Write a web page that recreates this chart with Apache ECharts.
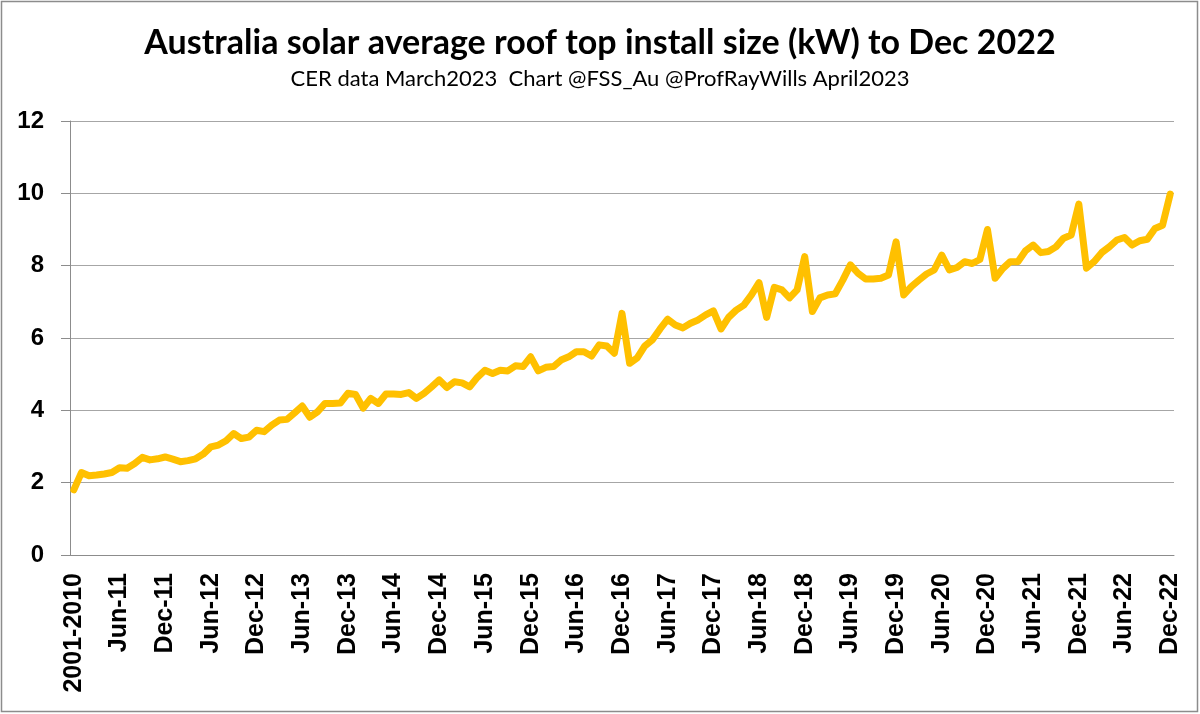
<!DOCTYPE html>
<html>
<head>
<meta charset="utf-8">
<title>Australia solar average roof top install size</title>
<script src="https://cdn.jsdelivr.net/npm/echarts@6/dist/echarts.min.js"></script>
<style>
  html, body { margin: 0; padding: 0; background: #fff; }
  #chart { width: 1200px; height: 714px; }
</style>
</head>
<body>
<div id="chart"></div>
<script>
// categories: first point is the 2001-2010 average, then monthly Jan-11 .. Dec-22
const categories = [
  '2001-2010',
  'Jan-11','Feb-11','Mar-11','Apr-11','May-11','Jun-11','Jul-11','Aug-11','Sep-11','Oct-11','Nov-11','Dec-11',
  'Jan-12','Feb-12','Mar-12','Apr-12','May-12','Jun-12','Jul-12','Aug-12','Sep-12','Oct-12','Nov-12','Dec-12',
  'Jan-13','Feb-13','Mar-13','Apr-13','May-13','Jun-13','Jul-13','Aug-13','Sep-13','Oct-13','Nov-13','Dec-13',
  'Jan-14','Feb-14','Mar-14','Apr-14','May-14','Jun-14','Jul-14','Aug-14','Sep-14','Oct-14','Nov-14','Dec-14',
  'Jan-15','Feb-15','Mar-15','Apr-15','May-15','Jun-15','Jul-15','Aug-15','Sep-15','Oct-15','Nov-15','Dec-15',
  'Jan-16','Feb-16','Mar-16','Apr-16','May-16','Jun-16','Jul-16','Aug-16','Sep-16','Oct-16','Nov-16','Dec-16',
  'Jan-17','Feb-17','Mar-17','Apr-17','May-17','Jun-17','Jul-17','Aug-17','Sep-17','Oct-17','Nov-17','Dec-17',
  'Jan-18','Feb-18','Mar-18','Apr-18','May-18','Jun-18','Jul-18','Aug-18','Sep-18','Oct-18','Nov-18','Dec-18',
  'Jan-19','Feb-19','Mar-19','Apr-19','May-19','Jun-19','Jul-19','Aug-19','Sep-19','Oct-19','Nov-19','Dec-19',
  'Jan-20','Feb-20','Mar-20','Apr-20','May-20','Jun-20','Jul-20','Aug-20','Sep-20','Oct-20','Nov-20','Dec-20',
  'Jan-21','Feb-21','Mar-21','Apr-21','May-21','Jun-21','Jul-21','Aug-21','Sep-21','Oct-21','Nov-21','Dec-21',
  'Jan-22','Feb-22','Mar-22','Apr-22','May-22','Jun-22','Jul-22','Aug-22','Sep-22','Oct-22','Nov-22','Dec-22'
];

// average install size (kW)
const avgSize = [
  1.80,
  2.28, 2.19, 2.21, 2.24, 2.28, 2.41, 2.40, 2.53, 2.70, 2.63, 2.66, 2.71,
  2.65, 2.58, 2.61, 2.66, 2.79, 2.99, 3.04, 3.16, 3.36, 3.22, 3.26, 3.45,
  3.41, 3.59, 3.73, 3.75, 3.93, 4.12, 3.81, 3.96, 4.19, 4.19, 4.20, 4.47,
  4.44, 4.06, 4.33, 4.19, 4.45, 4.45, 4.44, 4.49, 4.33, 4.47, 4.65, 4.84,
  4.63, 4.79, 4.76, 4.65, 4.91, 5.11, 5.02, 5.11, 5.09, 5.23, 5.21, 5.48,
  5.09, 5.19, 5.21, 5.39, 5.48, 5.62, 5.62, 5.50, 5.81, 5.78, 5.58, 6.68,
  5.30, 5.45, 5.78, 5.95, 6.25, 6.52, 6.36, 6.28, 6.41, 6.50, 6.64, 6.75,
  6.25, 6.57, 6.77, 6.91, 7.19, 7.53, 6.57, 7.40, 7.33, 7.11, 7.33, 8.25,
  6.73, 7.11, 7.19, 7.22, 7.60, 8.02, 7.79, 7.63, 7.63, 7.65, 7.74, 8.66,
  7.19, 7.42, 7.60, 7.77, 7.88, 8.29, 7.88, 7.95, 8.11, 8.06, 8.17, 9.00,
  7.65, 7.92, 8.11, 8.11, 8.41, 8.57, 8.36, 8.39, 8.52, 8.76, 8.85, 9.70,
  7.93, 8.11, 8.36, 8.52, 8.71, 8.78, 8.57, 8.69, 8.73, 9.03, 9.12, 9.98
];

const yMin = 0;
const yMax = 12;
const yStep = 2;

const chart = echarts.init(document.getElementById('chart'));

const option = {
  backgroundColor: '#fff',
  animation: false,
  title: {
    text: 'Australia solar average roof top install size (kW) to Dec 2022',
    subtext: 'CER data March2023  Chart @FSS_Au @ProfRayWills April2023',
    left: 'center',
    top: 21,
    itemGap: 8,
    textStyle: {
      fontFamily: 'Lato',
      fontWeight: 'bold',
      fontSize: 34,
      color: '#000'
    },
    subtextStyle: {
      fontFamily: 'Lato',
      fontSize: 22,
      color: '#000'
    }
  },
  graphic: [{
    type: 'rect',
    shape: { x: 1.5, y: 1.5, width: 1196, height: 710 },
    style: { fill: 'none', stroke: '#8c8c8c', lineWidth: 1.5 },
    silent: true
  }],
  grid: {
    left: 70,
    right: 26,
    top: 121,
    bottom: 159
  },
  xAxis: {
    type: 'category',
    data: categories,
    boundaryGap: true,
    axisLine: { lineStyle: { color: '#8c8c8c', width: 1 } },
    axisTick: {
      interval: 0,
      length: 7,
      lineStyle: { color: '#8c8c8c' }
    },
    axisLabel: {
      interval: 5,
      rotate: 90,
      margin: 18,
      fontFamily: 'Liberation Sans',
      fontWeight: 'bold',
      fontSize: 25,
      color: '#000'
    },
    splitLine: { show: false }
  },
  yAxis: {
    type: 'value',
    min: yMin,
    max: yMax,
    interval: yStep,
    axisLine: { show: true, lineStyle: { color: '#8c8c8c', width: 1 } },
    axisTick: { show: true, length: 9, lineStyle: { color: '#8c8c8c' } },
    axisLabel: {
      margin: 26,
      fontFamily: 'Liberation Sans',
      fontWeight: 'bold',
      fontSize: 24,
      color: '#000'
    },
    splitLine: { lineStyle: { color: '#a6a6a6', width: 1 } }
  },
  series: [{
    type: 'line',
    data: avgSize,
    showSymbol: false,
    symbol: 'none',
    lineStyle: { color: '#FFC000', width: 7, join: 'round', cap: 'round' },
    itemStyle: { color: '#FFC000' }
  }]
};

chart.setOption(option);
</script>
</body>
</html>
